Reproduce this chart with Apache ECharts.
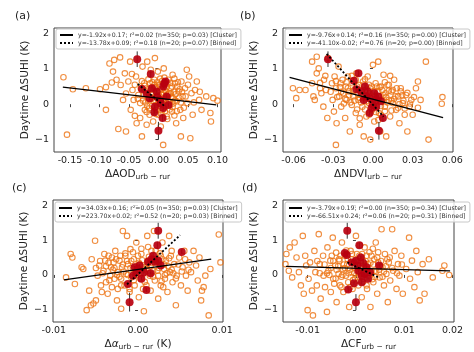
<!DOCTYPE html>
<html>
<head>
<meta charset="utf-8">
<script src="https://cdn.jsdelivr.net/npm/echarts@6/dist/echarts.min.js"></script>
<style>
html, body { margin: 0; padding: 0; background: #fff; }
#chart { width: 474px; height: 352px; }
</style>
</head>
<body>
<div id="chart"></div>
<script>
var suhiTicks = [-1, 0, 1, 2];

// (a) aerosol optical depth
var aodTicks = [-0.15, -0.10, -0.05, 0.00, 0.05, 0.10];
var aodPoints = [
    [-0.161,0.76],[-0.155,-0.86],[-0.145,0.42],[-0.123,0.45],[-0.099,0.42],[-0.089,0.48],[-0.089,-0.16],[-0.083,1.15],
    [-0.079,0.61],[-0.075,1.25],[-0.077,0.92],[-0.071,0.69],[-0.068,-0.70],[-0.065,1.32],[-0.064,0.54],[-0.060,0.12],
    [-0.057,0.87],[-0.055,-0.77],[-0.051,0.64],[-0.048,1.20],[-0.047,-0.16],[-0.044,0.40],[-0.042,0.12],[-0.040,-0.33],
    [-0.038,0.78],[-0.037,-0.54],[-0.034,0.26],[-0.031,0.03],[-0.031,-0.39],[-0.028,-0.91],[-0.027,1.06],[-0.024,0.59],
    [-0.023,-0.16],[-0.021,0.36],[-0.020,-0.58],[-0.019,1.20],[-0.017,0.12],[-0.015,-0.30],[-0.014,0.59],[-0.013,0.97],
    [-0.011,-0.05],[-0.010,0.31],[-0.009,-0.49],[-0.007,0.69],[-0.006,1.30],[-0.006,0.12],[-0.004,-0.16],[-0.003,0.45],
    [-0.002,0.22],[-0.001,0.92],[0.000,-0.30],[0.001,0.03],[0.003,0.54],[0.004,-0.63],[0.005,0.26],[0.007,-0.16],
    [0.008,-1.15],[0.009,1.01],[0.011,0.40],[0.013,0.12],[0.014,-0.35],[0.017,0.69],[0.019,0.31],[0.020,-0.02],
    [0.021,0.45],[0.023,-0.21],[0.024,0.83],[0.025,0.17],[0.028,0.59],[0.030,-0.54],[0.031,0.08],[0.034,0.36],
    [0.037,-0.16],[0.038,-0.91],[0.039,0.64],[0.041,0.22],[0.042,-0.39],[0.045,0.45],[0.048,0.97],[0.049,0.03],
    [0.052,0.78],[0.054,-0.96],[0.056,0.31],[0.058,-0.30],[0.062,0.40],[0.065,0.64],[0.069,0.12],[0.073,-0.16],
    [0.081,0.22],[0.088,-0.25],[0.089,-0.49],[0.093,0.17],[0.100,0.10],
    [-0.025,0.25],[-0.022,0.05],[-0.018,0.42],[-0.016,-0.12],[-0.012,0.30],[-0.010,0.62],[-0.008,0.08],[-0.005,0.48],
    [-0.004,-0.28],[-0.001,0.35],[0.001,0.55],[0.002,-0.05],[0.004,0.18],[0.006,0.42],[0.007,0.02],[0.009,0.32],
    [0.011,-0.20],[0.012,0.15],[0.014,0.48],[0.016,0.28],[0.018,0.05],[0.020,0.60],[0.022,0.20],[0.024,-0.08],
    [0.026,0.35],[0.028,0.10],[0.032,0.50],[0.035,0.18],[-0.028,0.65],[-0.020,-0.22],[0.003,0.72],[0.015,-0.42],
    [0.027,-0.32],[-0.012,0.15],[0.000,0.05],
    [-0.030,0.45],[-0.026,0.10],[-0.023,0.52],[-0.019,-0.05],[-0.017,0.70],[-0.013,0.40],[-0.009,0.20],[-0.007,0.55],
    [-0.005,-0.10],[-0.002,0.62],[0.000,0.25],[0.002,0.40],[0.005,-0.25],[0.006,0.65],[0.008,0.15],[0.010,0.75],
    [0.012,-0.05],[0.013,0.35],[0.015,0.58],[0.017,0.10],[0.019,-0.15],[0.021,0.30],[0.023,0.50],[0.025,0.02],
    [0.027,0.72],[0.029,0.28],[0.031,-0.20],[0.033,0.62],[0.036,0.42],[0.038,0.05],[0.040,0.35],[0.043,-0.10],
    [0.046,0.22],[0.050,0.55],[-0.035,0.15],[-0.040,0.55],[-0.045,0.85],[0.060,0.05],[0.070,0.35],[-0.055,0.30]
];
var aodBinned = [
    [-0.036,1.27],[-0.013,0.85],[-0.028,0.43],[0.012,0.64],[0.008,0.50],[-0.003,0.36],[-0.015,0.17],[-0.006,-0.07],
    [-0.007,-0.23],[0.007,-0.39],[0.000,-0.75],[0.014,0.22],[0.017,-0.02],[0.008,-0.11],[0.003,0.12],[0.010,0.58],
    [-0.011,0.45],[-0.020,0.30],[0.004,0.02],[-0.002,0.20]
];
var aodBinnedErr = [0.22,0.08,0.07,0.07,0.06,0.05,0.06,0.05,0.06,0.1,0.25,0.05,0.05,0.05,0.04,0.06,0.06,0.06,0.04,0.04];
var aodClusterLine = [[-0.162, 0.48], [0.098, -0.02]];
var aodBinnedLine = [[-0.035, 0.57], [0.010, -0.05]];
var aodLegend = ['y=-1.92x+0.17; r²=0.02 (n=350; p=0.03) [Cluster]', 'y=-13.78x+0.09; r²=0.18 (n=20; p=0.07) [Binned]'];

// (b) vegetation index
var ndviTicks = [-0.06, -0.03, 0.00, 0.03, 0.06];
var ndviPoints = [
    [-0.0605,0.45],[-0.058,0.17],[-0.0555,0.40],[-0.051,0.40],[-0.046,1.20],[-0.046,0.59],[-0.045,0.22],[-0.044,0.12],
    [-0.0425,1.34],[-0.0425,0.87],[-0.041,1.01],[-0.040,0.45],[-0.039,0.31],[-0.0375,-0.07],[-0.037,0.69],[-0.0355,0.40],
    [-0.0345,-0.39],[-0.034,1.30],[-0.028,-1.15],[-0.031,0.59],[-0.0305,0.12],[-0.0295,-0.21],[-0.029,0.78],[-0.028,0.45],
    [-0.0275,-0.54],[-0.026,1.06],[-0.0255,0.22],[-0.0245,0.59],[-0.024,-0.07],[-0.023,0.69],[-0.0225,0.31],[-0.021,-0.39],
    [-0.0205,0.50],[-0.020,0.12],[-0.019,0.78],[-0.018,0.36],[-0.0175,-0.77],[-0.016,-0.02],[-0.0155,0.59],[-0.015,0.22],
    [-0.014,0.40],[-0.013,-0.25],[-0.0125,0.87],[-0.011,0.12],[-0.0105,0.54],[-0.010,-0.58],[-0.009,0.26],[-0.008,-0.07],
    [-0.0075,0.64],[-0.007,-0.91],[-0.006,0.17],[-0.0055,0.40],[-0.005,-0.35],[-0.004,0.78],[-0.003,0.03],[-0.0025,0.31],
    [-0.002,-1.00],[-0.001,0.50],[-0.0005,-0.16],[0.000,1.11],[0.0005,0.22],[0.001,-0.49],[0.002,0.59],[0.0025,0.08],
    [0.004,1.20],[0.004,0.36],[0.0045,-0.25],[0.0055,-0.77],[0.006,0.50],[0.007,0.12],[0.008,0.83],[0.009,-0.07],
    [0.0095,0.31],[0.010,-0.91],[0.011,0.54],[0.012,0.12],[0.013,-0.35],[0.014,0.36],[0.015,0.03],[0.016,0.69],
    [0.0175,-0.16],[0.019,0.22],[0.020,-0.54],[0.021,0.36],[0.0225,0.03],[0.024,-0.30],[0.025,0.26],[0.026,-0.77],
    [0.0275,-0.07],[0.029,0.12],[0.030,-0.30],[0.0325,0.45],[0.034,0.64],[0.036,0.12],[0.040,1.20],[0.042,-1.00],
    [0.0525,0.20],[0.052,0.01],
    [-0.024,0.35],[-0.021,0.15],[-0.019,0.45],[-0.017,0.05],[-0.015,0.38],[-0.013,0.68],[-0.011,0.28],[-0.009,0.05],
    [-0.007,0.55],[-0.006,-0.15],[-0.004,0.25],[-0.002,0.45],[-0.001,0.00],[0.001,0.38],[0.002,-0.22],[0.003,0.15],
    [0.005,0.48],[0.006,-0.05],[0.008,0.25],[0.009,0.62],[0.011,0.05],[0.012,0.38],[0.014,-0.18],[0.016,0.15],
    [0.018,0.45],[0.020,0.00],[0.022,0.25],[0.024,-0.12],[-0.028,0.65],[-0.010,-0.40],[0.013,0.80],[0.004,-0.45],
    [-0.027,0.20],[-0.025,0.48],[-0.022,0.02],[-0.020,0.62],[-0.018,0.25],[-0.016,0.80],[-0.014,0.10],[-0.012,0.50],
    [-0.010,0.18],[-0.008,0.40],[-0.006,0.70],[-0.005,0.08],[-0.003,0.55],[-0.001,0.20],[0.000,0.35],[0.002,0.05],
    [0.003,0.50],[0.005,0.22],[0.007,0.40],[0.009,-0.20],[0.010,0.20],[0.012,0.55],[0.014,0.10],[0.015,0.40],
    [0.017,0.22],[0.019,-0.10],[0.021,0.45],[0.023,0.10],[0.026,0.32],[0.028,0.02],[-0.032,0.35],[-0.036,0.80],
    [-0.040,0.60],[0.031,0.20],[0.034,-0.10],[-0.003,-0.30],[0.006,-0.30],[-0.012,-0.15]
];
var ndviBinned = [
    [-0.034,1.27],[-0.011,0.87],[-0.0145,0.66],[-0.0125,0.42],[-0.009,0.36],[-0.006,0.50],[-0.005,0.22],[-0.0025,0.17],
    [0.001,0.31],[0.000,-0.02],[-0.001,-0.11],[-0.0025,-0.25],[0.0025,-0.07],[0.006,0.08],[0.0075,-0.39],[0.0045,-0.75],
    [-0.007,0.12],[-0.004,0.36],[0.002,0.12],[0.004,0.22]
];
var ndviBinnedErr = [0.22,0.08,0.07,0.06,0.05,0.06,0.05,0.04,0.05,0.04,0.05,0.06,0.05,0.05,0.1,0.25,0.05,0.05,0.04,0.04];
var ndviClusterLine = [[-0.063, 0.755], [0.053, -0.377]];
var ndviBinnedLine = [[-0.035, 1.42], [0.008, -0.35]];
var ndviLegend = ['y=-9.76x+0.14; r²=0.16 (n=350; p=0.00) [Cluster]', 'y=-41.10x-0.02; r²=0.76 (n=20; p=0.00) [Binned]'];

// (c) albedo
var albTicks = [-0.01, 0.00, 0.01];
var albPoints = [
    [-0.00855,-0.07],[-0.0080,0.60],[-0.0078,0.50],[-0.0075,-0.26],[-0.0067,0.22],[-0.0065,0.17],[-0.0061,-1.01],[-0.0058,-0.45],
    [-0.0056,-0.87],[-0.0053,-0.82],[-0.0051,0.98],[-0.0050,-0.73],[-0.0048,-0.02],[-0.0046,0.27],[-0.0044,-0.30],[-0.0043,-0.49],
    [-0.0041,0.12],[-0.0039,0.41],[-0.0038,-0.21],[-0.0036,-0.54],[-0.0035,0.55],[-0.0033,-0.02],[-0.0032,0.22],[-0.0031,-0.35],
    [-0.0029,0.36],[-0.0028,-0.11],[-0.0027,0.69],[-0.0025,-0.73],[-0.0024,0.08],[-0.0024,-0.40],[-0.0022,0.41],[-0.0020,-0.97],
    [-0.0020,-0.11],[-0.0019,0.22],[-0.0018,1.26],[-0.0016,-0.30],[-0.0015,0.55],[-0.0014,0.03],[-0.0013,1.12],[-0.0012,0.31],
    [-0.0010,-0.49],[-0.0009,0.74],[-0.0008,-0.07],[-0.0006,0.17],[-0.0005,0.45],[-0.0004,-0.30],[-0.0002,0.93],[-0.0001,0.08],
    [0.0001,-0.64],[0.0002,0.31],[0.0003,-0.11],[0.0004,0.60],[0.0006,0.03],[0.0007,-1.04],[0.0008,0.22],[0.0010,-0.30],
    [0.0011,1.12],[0.0012,0.41],[0.0014,-0.02],[0.0015,-0.45],[0.0016,0.69],[0.0018,0.12],[0.0019,1.26],[0.0020,-0.16],
    [0.0022,0.36],[0.0024,-0.68],[0.0024,-0.02],[0.0027,0.55],[0.0027,-0.30],[0.0029,0.93],[0.0031,0.17],[0.0032,-0.11],
    [0.0033,0.41],[0.0035,-0.49],[0.0037,1.12],[0.0038,0.08],[0.0040,0.69],[0.0041,-0.21],[0.0043,0.31],[0.0045,-0.87],
    [0.0046,-0.02],[0.0049,0.50],[0.0051,-0.30],[0.0053,0.22],[0.0055,0.69],[0.0057,-0.02],[0.0059,-0.45],[0.0061,0.36],
    [0.0063,0.08],[0.0066,0.69],[0.0069,0.27],[0.0071,-0.16],[0.0073,0.50],[0.0075,-0.73],[0.0076,-0.45],[0.0078,-0.35],
    [0.0080,-0.02],[0.0084,-1.16],[0.0086,0.17],[0.0096,1.16],[0.0098,0.36],
    [-0.0030,0.15],[-0.0026,0.45],[-0.0022,-0.05],[-0.0018,0.30],[-0.0015,0.62],[-0.0012,0.00],[-0.0008,0.40],[-0.0005,-0.15],
    [-0.0002,0.25],[0.0000,0.55],[0.0003,0.05],[0.0005,0.42],[0.0008,-0.20],[0.0010,0.18],[0.0013,0.52],[0.0015,0.25],
    [0.0018,-0.05],[0.0020,0.45],[0.0023,0.12],[0.0026,0.62],[0.0028,-0.18],[0.0031,0.30],[0.0034,0.05],[0.0037,0.48],
    [0.0040,0.15],[-0.0035,0.35],[-0.0040,0.60],[0.0045,-0.10],[0.0012,0.80],[-0.0010,-0.40],
    [-0.0045,0.40],[-0.0042,0.05],[-0.0038,0.25],[-0.0034,-0.15],[-0.0031,0.50],[-0.0028,0.20],[-0.0025,0.00],[-0.0021,0.55],
    [-0.0017,0.10],[-0.0013,0.40],[-0.0009,0.20],[-0.0006,0.65],[-0.0003,0.00],[0.0001,0.35],[0.0004,0.75],[0.0007,0.15],
    [0.0011,0.30],[0.0014,0.05],[0.0017,0.35],[0.0021,0.70],[0.0025,0.20],[0.0029,0.45],[0.0032,0.00],[0.0036,0.25],
    [0.0039,0.55],[0.0042,0.05],[0.0048,0.30],[0.0052,0.10],[0.0056,0.45],[-0.0050,0.20],[-0.0055,0.45],[0.0060,0.15],
    [-0.0020,-0.30],[0.0006,-0.40],[0.0030,-0.35]
];
var albBinned = [
    [0.0024,1.27],[0.0023,0.85],[0.0018,0.55],[0.0020,0.38],[0.0012,0.38],[-0.0004,0.22],[0.0002,0.27],[-0.0012,-0.26],
    [-0.0010,-0.78],[0.0010,-0.43],[0.0004,-0.11],[0.0007,0.08],[0.0015,0.05],[0.0052,0.66],[0.0024,0.41],[-0.0006,-0.02],
    [0.0000,0.17],[0.0027,0.27],[0.0016,0.45],[-0.0002,0.08]
];
var albBinnedErr = [0.23,0.1,0.06,0.05,0.05,0.04,0.04,0.06,0.27,0.06,0.05,0.04,0.04,0.06,0.05,0.04,0.04,0.05,0.05,0.04];
var albClusterLine = [[-0.0088, -0.14], [0.0087, 0.456]];
var albBinnedLine = [[-0.0013, -0.27], [0.0050, 1.14]];
var albLegend = ['y=34.03x+0.16; r²=0.05 (n=350; p=0.03) [Cluster]', 'y=223.70x+0.02; r²=0.52 (n=20; p=0.03) [Binned]'];

// (d) cloud fraction
var cfTicks = [-0.01, 0.00, 0.01, 0.02];
var cfPoints = [
    [-0.0146,0.31],[-0.0144,0.60],[-0.0139,0.12],[-0.0137,0.79],[-0.0132,-0.07],[-0.0127,0.93],[-0.0123,0.50],[-0.0118,0.08],
    [-0.0114,-0.30],[-0.0110,1.12],[-0.0108,-0.54],[-0.0105,0.55],[-0.0103,0.27],[-0.0100,-1.01],[-0.0098,-0.11],[-0.0095,0.36],
    [-0.0091,-0.45],[-0.0089,-1.16],[-0.0086,0.69],[-0.0084,0.08],[-0.0081,-0.30],[-0.0077,1.17],[-0.0075,0.31],[-0.0073,-0.68],
    [-0.0068,0.55],[-0.0067,-0.02],[-0.0064,-0.35],[-0.0060,-1.06],[-0.0059,0.79],[-0.0057,0.12],[-0.0053,0.41],[-0.0052,-0.49],
    [-0.0048,1.07],[-0.0047,-0.11],[-0.0043,0.27],[-0.0041,0.64],[-0.0040,-0.78],[-0.0036,0.03],[-0.0034,0.41],[-0.0033,-0.30],
    [-0.0029,0.93],[-0.0027,0.17],[-0.0026,-0.49],[-0.0023,0.55],[-0.0021,-0.02],[-0.0018,0.31],[-0.0016,-0.21],[-0.0014,-0.92],
    [-0.0011,0.69],[-0.0009,0.08],[-0.0007,-0.40],[-0.0004,0.36],[-0.0002,-0.11],[0.0000,1.12],[0.0003,0.22],[0.0005,-0.30],
    [0.0007,0.55],[0.0010,0.03],[0.0012,-0.64],[0.0014,0.41],[0.0016,-0.11],[0.0018,0.79],[0.0021,0.17],[0.0023,-0.40],
    [0.0025,0.31],[0.0027,-0.02],[0.0030,-0.92],[0.0032,0.55],[0.0036,-0.21],[0.0039,0.12],[0.0041,0.93],[0.0044,-0.54],
    [0.0046,0.36],[0.0049,-0.07],[0.0053,1.31],[0.0055,0.22],[0.0058,-0.30],[0.0060,0.60],[0.0063,0.03],[0.0066,-0.78],
    [0.0068,0.36],[0.0071,-0.16],[0.0075,1.31],[0.0077,0.12],[0.0080,0.69],[0.0084,-0.40],[0.0087,0.31],[0.0090,-0.02],
    [0.0094,0.55],[0.0097,-0.54],[0.0104,0.17],[0.0110,1.07],[0.0112,-0.11],[0.0116,0.41],[0.0121,-0.35],[0.0125,0.69],
    [0.0128,0.08],[0.0132,-0.73],[0.0138,0.31],[0.0142,-0.54],[0.0151,0.45],[0.0159,-0.07],[0.0179,0.12],[0.0183,0.27],
    [0.0193,0.00],
    [-0.0040,0.15],[-0.0035,0.45],[-0.0030,-0.05],[-0.0025,0.30],[-0.0020,0.70],[-0.0015,0.05],[-0.0010,0.45],[-0.0006,-0.15],
    [-0.0002,0.25],[0.0002,0.60],[0.0006,0.05],[0.0010,0.40],[0.0014,-0.20],[0.0018,0.25],[0.0022,0.55],[0.0026,0.05],
    [0.0030,0.35],[0.0034,-0.12],[0.0038,0.45],[0.0042,0.10],[0.0046,0.65],[0.0050,0.25],[0.0055,-0.05],[-0.0050,0.55],
    [-0.0055,0.00],[0.0065,0.45],[-0.0045,-0.25],[0.0008,0.85],[0.0035,0.75],[-0.0012,-0.35],
    [-0.0065,0.30],[-0.0060,0.05],[-0.0052,0.20],[-0.0047,0.40],[-0.0042,-0.10],[-0.0037,0.25],[-0.0032,0.55],[-0.0028,0.00],
    [-0.0023,0.20],[-0.0017,0.45],[-0.0013,0.15],[-0.0008,0.60],[-0.0003,0.05],[0.0001,0.40],[0.0004,-0.05],[0.0009,0.20],
    [0.0013,0.60],[0.0017,0.05],[0.0020,0.40],[0.0024,0.15],[0.0028,0.65],[0.0032,0.10],[0.0036,0.30],[0.0040,-0.05],
    [0.0044,0.50],[0.0048,0.15],[0.0052,0.40],[0.0058,0.10],[0.0062,0.25],[0.0070,0.50],[0.0075,0.20],[-0.0075,0.05],
    [-0.0080,0.40],[0.0085,0.05],[0.0095,0.30],[-0.0030,-0.35],[0.0022,-0.30]
];
var cfBinned = [
    [-0.0018,1.27],[-0.0023,0.63],[-0.0019,0.57],[0.0007,0.85],[0.0010,0.50],[0.0000,0.41],[-0.0016,-0.42],[-0.0004,-0.24],
    [0.0000,-0.78],[0.0015,0.34],[0.0022,0.22],[0.0025,-0.11],[0.0012,-0.21],[0.0048,0.27],[0.0005,0.12],[0.0018,0.03],
    [0.0012,-0.02],[0.0003,0.27],[-0.0009,0.36],[0.0029,0.08]
];
var cfBinnedErr = [0.23,0.07,0.06,0.08,0.05,0.05,0.08,0.06,0.23,0.05,0.05,0.05,0.05,0.05,0.04,0.04,0.04,0.04,0.05,0.04];
var cfClusterLine = [[-0.0145, 0.245], [0.0195, 0.116]];
var cfBinnedLine = [[-0.0018, 0.36], [0.0048, -0.08]];
var cfLegend = ['y=-3.79x+0.19; r²=0.00 (n=350; p=0.34) [Cluster]', 'y=-66.51x+0.24; r²=0.06 (n=20; p=0.31) [Binned]'];

var panels = [
    {tag: '(a)', tagAt: [15, 11], box: {left: 54, top: 28, width: 167, height: 124}, xMin: -0.177, xMax: 0.106,
     ticks: aodTicks, xName: '{m|ΔAOD}{s|urb − rur}', legendAt: [56, 29],
     points: aodPoints, binned: aodBinned, err: aodBinnedErr, cluster: aodClusterLine, bin: aodBinnedLine, names: aodLegend},
    {tag: '(b)', tagAt: [240, 11], box: {left: 283, top: 28, width: 170, height: 124}, xMin: -0.068, xMax: 0.0605,
     ticks: ndviTicks, xName: '{m|ΔNDVI}{s|urb − rur}', legendAt: [285, 29],
     points: ndviPoints, binned: ndviBinned, err: ndviBinnedErr, cluster: ndviClusterLine, bin: ndviBinnedLine, names: ndviLegend},
    {tag: '(c)', tagAt: [12, 183], box: {left: 53, top: 200, width: 170, height: 123}, xMin: -0.0101, xMax: 0.0101,
     ticks: albTicks, xName: '{m|Δ}{i|α}{s|urb − rur}{m| (K)}', legendAt: [55, 202],
     points: albPoints, binned: albBinned, err: albBinnedErr, cluster: albClusterLine, bin: albBinnedLine, names: albLegend},
    {tag: '(d)', tagAt: [242, 183], box: {left: 283, top: 200, width: 171, height: 123}, xMin: -0.0151, xMax: 0.0203,
     ticks: cfTicks, xName: '{m|ΔCF}{s|urb − rur}', legendAt: [285, 202],
     points: cfPoints, binned: cfBinned, err: cfBinnedErr, cluster: cfClusterLine, bin: cfBinnedLine, names: cfLegend}
];

function errorBar(params, api) {
    var x = api.value(0), y = api.value(1), e = api.value(2);
    var lo = api.coord([x, y - e]);
    var hi = api.coord([x, y + e]);
    return {
        type: 'line',
        shape: {x1: lo[0], y1: lo[1], x2: hi[0], y2: hi[1]},
        style: {stroke: '#333', lineWidth: 1}
    };
}

var dom = document.getElementById('chart');
var myChart = echarts.init(dom, null, {renderer: 'canvas'});
var option = {
    animation: false,
    backgroundColor: '#fff',
    textStyle: {fontFamily: 'DejaVu Sans'},
    title: [], grid: [], xAxis: [], yAxis: [], legend: [], series: []
};

panels.forEach(function (p, i) {
    option.title.push({
        text: p.tag, left: p.tagAt[0], top: p.tagAt[1], padding: 0,
        textStyle: {fontSize: 11, fontWeight: 'normal', color: '#222', fontFamily: 'DejaVu Sans'}
    });
    option.grid.push(Object.assign({show: true, borderColor: '#444', borderWidth: 1, backgroundColor: 'transparent'}, p.box));
    option.xAxis.push({
        type: 'value', gridIndex: i, min: p.xMin, max: p.xMax,
        name: p.xName, nameLocation: 'middle', nameGap: 15,
        nameTextStyle: {
            rich: {
                m: {fontSize: 10.5, color: '#222', fontFamily: 'DejaVu Sans'},
                i: {fontSize: 10.5, color: '#222', fontFamily: 'DejaVu Sans', fontStyle: 'italic'},
                s: {fontSize: 7.5, color: '#222', fontFamily: 'DejaVu Sans', verticalAlign: 'top', padding: [6, 0, 0, 0]}
            }
        },
        axisLine: {show: false},
        splitLine: {show: false},
        axisTick: {customValues: p.ticks, length: 3, lineStyle: {color: '#444'}},
        axisLabel: {
            customValues: p.ticks, fontSize: 9.5, color: '#222', margin: 4,
            formatter: function (v) { return v.toFixed(2); }
        }
    });
    option.yAxis.push({
        type: 'value', gridIndex: i, min: -1.35, max: 2.15,
        name: 'Daytime ΔSUHI (K)', nameLocation: 'middle', nameGap: 19,
        nameTextStyle: {fontSize: 10.5, color: '#222'},
        axisLine: {show: false},
        splitLine: {show: false},
        axisTick: {customValues: suhiTicks, length: 3, lineStyle: {color: '#444'}},
        axisLabel: {
            customValues: suhiTicks, fontSize: 9.5, color: '#222', margin: 5,
            formatter: function (v) { return v < 0 ? '\u2212' + Math.abs(v) : String(v); }
        }
    });
    option.legend.push({
        data: p.names, left: p.legendAt[0], top: p.legendAt[1],
        orient: 'vertical', itemGap: 2, itemWidth: 13, itemHeight: 6,
        padding: [3, 4, 3, 3], selectedMode: false,
        backgroundColor: 'rgba(255,255,255,0.8)', borderColor: '#c8c8c8', borderWidth: 1, borderRadius: 2,
        itemStyle: {color: 'rgba(0,0,0,0)', borderWidth: 0, opacity: 0},
        textStyle: {fontSize: 6.2, color: '#333'}
    });

    option.series.push({
        type: 'scatter', xAxisIndex: i, yAxisIndex: i, data: p.points,
        symbol: 'circle', symbolSize: 5.5, silent: true,
        itemStyle: {color: 'rgba(0,0,0,0)', borderColor: '#ec7212', borderWidth: 1.1}
    });
    option.series.push({
        type: 'custom', xAxisIndex: i, yAxisIndex: i, renderItem: errorBar, silent: true, z: 3,
        encode: {x: 0, y: 1},
        data: p.binned.map(function (d, k) { return [d[0], d[1], p.err[k]]; })
    });
    option.series.push({
        type: 'scatter', xAxisIndex: i, yAxisIndex: i, data: p.binned,
        symbol: 'circle', symbolSize: 8, silent: true, z: 4,
        itemStyle: {color: '#b8000f', opacity: 0.92}
    });
    option.series.push({
        name: p.names[0], type: 'line', xAxisIndex: i, yAxisIndex: i, data: p.cluster,
        symbol: 'none', silent: true, z: 5,
        lineStyle: {color: '#000', width: 1.3}, itemStyle: {color: 'rgba(0,0,0,0)'}
    });
    option.series.push({
        name: p.names[1], type: 'line', xAxisIndex: i, yAxisIndex: i, data: p.bin,
        symbol: 'none', silent: true, z: 5,
        lineStyle: {color: '#000', width: 1.8, type: [2, 2]}, itemStyle: {color: 'rgba(0,0,0,0)'}
    });
});

if (option && typeof option === 'object') {
    myChart.setOption(option, true);
}
</script>
</body>
</html>
